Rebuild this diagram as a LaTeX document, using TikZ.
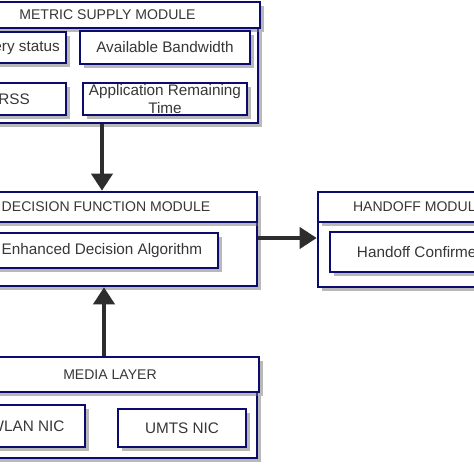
\documentclass[tikz,border=0pt]{standalone}
\usepackage{fontspec}
\setmainfont{Liberation Sans}
\usetikzlibrary{arrows.meta, shadows}

\definecolor{navyline}{RGB}{12,12,110}
\definecolor{labelgray}{RGB}{55,55,55}
\definecolor{arrowgray}{RGB}{45,45,45}

\begin{document}
\begin{tikzpicture}[
  x=0.02cm, y=0.02cm,
  box/.style={rectangle, draw=navyline, line width=1.5pt, fill=white, inner sep=0pt, text=labelgray, align=center, drop shadow={shadow xshift=0.08cm, shadow yshift=-0.08cm, fill=black!55, opacity=0.5}},
  titlebar/.style={box, font=\fontsize{8}{9.5}\selectfont},
  container/.style={box},
  item/.style={box, font=\fontsize{8.7}{10}\selectfont}
]
% picture is 474 x 474 px, y measured upward from the bottom
\useasboundingbox (0,0) rectangle (474,474);
\clip (0,0) rectangle (474,474);

% Metric Supply Module
\node[container, minimum width=6.06cm, minimum height=1.9cm] (msm) at (106.5,398.5) {};
\node[titlebar, minimum width=6.1cm, minimum height=0.52cm] (msmtitle) at (107.5,459) {METRIC SUPPLY MODULE};
\node[item, minimum width=2.12cm, minimum height=0.62cm] (battery) at (13,426.5) {Battery status};
\node[item, minimum width=3.4cm, minimum height=0.66cm] (bandwidth) at (165,426.5) {Available Bandwidth};
\node[item, minimum width=2.08cm, minimum height=0.64cm] (rss) at (14,375) {RSS};
\node[item, minimum width=3.28cm, minimum height=0.64cm] (apptime) at (165,375) {Application Remaining\\Time};

% Decision Function Module
\node[container, minimum width=6.04cm, minimum height=1.28cm] (dfm) at (106,220) {};
\node[titlebar, minimum width=6.04cm, minimum height=0.6cm] (dfmtitle) at (106,267) {DECISION FUNCTION MODULE};
\node[item, minimum width=4.64cm, minimum height=0.7cm] (eda) at (102,223.5) {Enhanced Decision Algorithm};

% Handoff Module
\node[container, minimum width=4.04cm, minimum height=1.3cm] (hm) at (419,219.5) {};
\node[titlebar, minimum width=4.04cm, minimum height=0.6cm] (hmtitle) at (419,267) {HANDOFF MODULE};
\node[item, minimum width=3.64cm, minimum height=0.8cm] (confirm) at (421,222) {Handoff Confirmed};

% Media Layer
\node[container, minimum width=5.92cm, minimum height=1.32cm] (ml) at (109,49) {};
\node[titlebar, minimum width=5.96cm, minimum height=0.7cm] (mltitle) at (110,99.5) {MEDIA LAYER};
\node[item, minimum width=2.32cm, minimum height=0.84cm] (wlan) at (27,48) {WLAN NIC};
\node[item, minimum width=2.56cm, minimum height=0.76cm] (umts) at (182,46) {UMTS NIC};

% Arrows
\coordinate (downcol) at (102,0);
\coordinate (upcol) at (104,0);
\coordinate (rightrow) at (0,236);
\begin{scope}[line width=2.2pt, draw=arrowgray, -{Triangle[width=0.42cm, length=0.34cm]}]
  \draw (msm.south -| downcol) -- (dfmtitle.north -| downcol);
  \draw (mltitle.north -| upcol) -- (dfm.south -| upcol);
  \draw (dfm.east |- rightrow) -- (hm.west |- rightrow);
\end{scope}

\end{tikzpicture}
\end{document}
